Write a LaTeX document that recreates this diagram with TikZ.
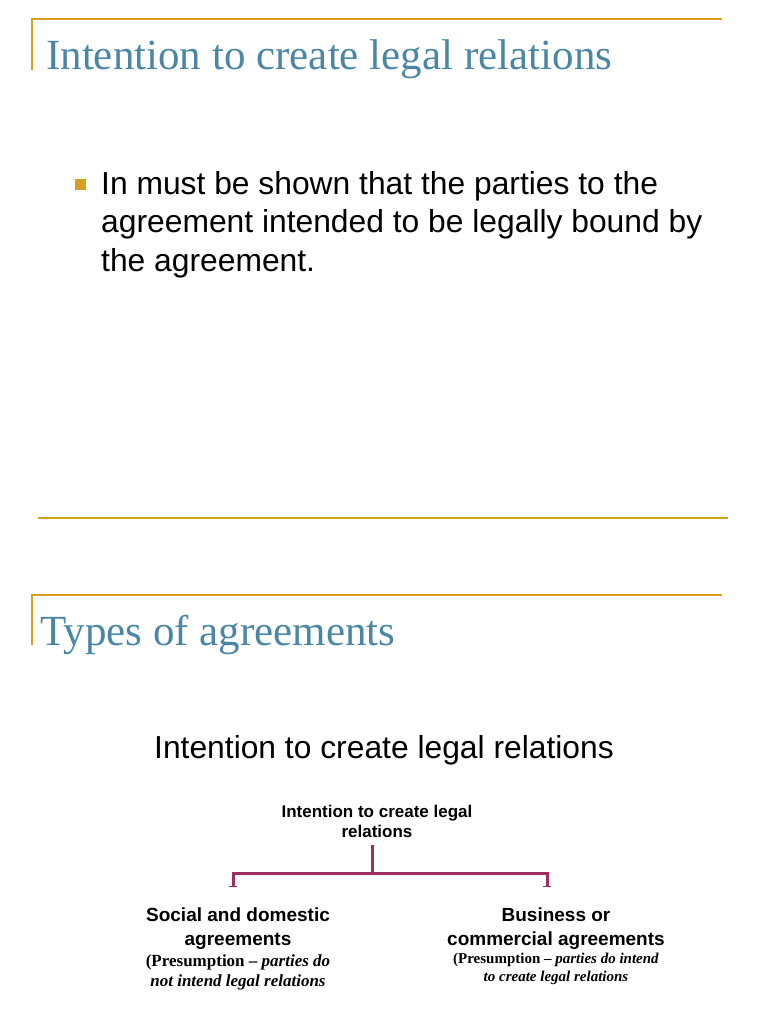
\documentclass[tikz,border=0pt]{standalone}
\usepackage{fontspec}
\setmainfont{Liberation Serif}
\setsansfont{Liberation Sans}
\definecolor{gold}{RGB}{214,160,30}
\definecolor{ttl}{RGB}{75,135,165}
\definecolor{mag}{RGB}{160,45,100}
\begin{document}
\begin{tikzpicture}[x=1pt,y=-1pt,
  ttlstyle/.style={anchor=base west,inner sep=0,text=ttl,font=\fontsize{43}{45}\selectfont},
  body/.style={anchor=base west,inner sep=0,font=\sffamily\fontsize{31.8}{38}\selectfont,align=left},
  sb/.style={inner sep=0,anchor=base,font=\sffamily\bfseries\fontsize{19}{24}\selectfont,align=center},
  rm/.style={inner sep=0,anchor=base,font=\bfseries\fontsize{17}{20}\selectfont,align=center},
  con/.style={draw=mag,line width=3pt}]
\useasboundingbox (0,0) rectangle (768,1024);
\draw[gold,line width=1.2pt] (722,19) -- (32,19) -- (32,70);
\node[ttlstyle] (t1) at (46,70) {Intention to create legal relations};
\fill[gold] (75,179) rectangle (86,190);
\node[body] (b1) at (101,195) {In must be shown that the parties to the};
\node[body] (b2) at (101,233) {agreement intended to be legally bound by};
\node[body] (b3) at (101,271) {the agreement.};
\draw[gold,line width=1.2pt] (38,518) -- (728,518);
\draw[gold,line width=1.2pt] (722,595) -- (32,595) -- (32,645);
\node[ttlstyle] (t2) at (40,645) {Types of agreements};
\node[inner sep=0,anchor=base,font=\sffamily\fontsize{31.8}{34}\selectfont] (h) at (384,758) {Intention to create legal relations};
\node[inner sep=0,anchor=base,font=\sffamily\bfseries\fontsize{17}{20}\selectfont,align=center] (r) at (377,837) {Intention to create legal\\relations};
\coordinate (top) at (372,845);
\coordinate (mid) at (372,873);
\coordinate (l) at (233,873);
\coordinate (rr) at (547,873);
\coordinate (le) at (233,886);
\coordinate (re) at (547,886);
\draw[con] (top) -- (mid);
\draw[con,line cap=rect] (l) -- (rr);
\draw[con] (l) -- (le);
\draw[con] (rr) -- (re);
\draw[mag,line width=1pt] (229,886) -- (237,886) (543,886) -- (551,886);
\node[sb] (s1) at (238,945) {Social and domestic\\agreements};
\node[rm] (s2) at (238,986) {(Presumption – \textit{parties do}\\\textit{not intend legal relations}};
\node[sb] (c1) at (556,945) {Business or\\commercial agreements};
\node[rm,font=\bfseries\fontsize{15}{18}\selectfont] (c2) at (556,981) {(Presumption – \textit{parties do intend}\\\textit{to create legal relations}};
\end{tikzpicture}
\end{document}
